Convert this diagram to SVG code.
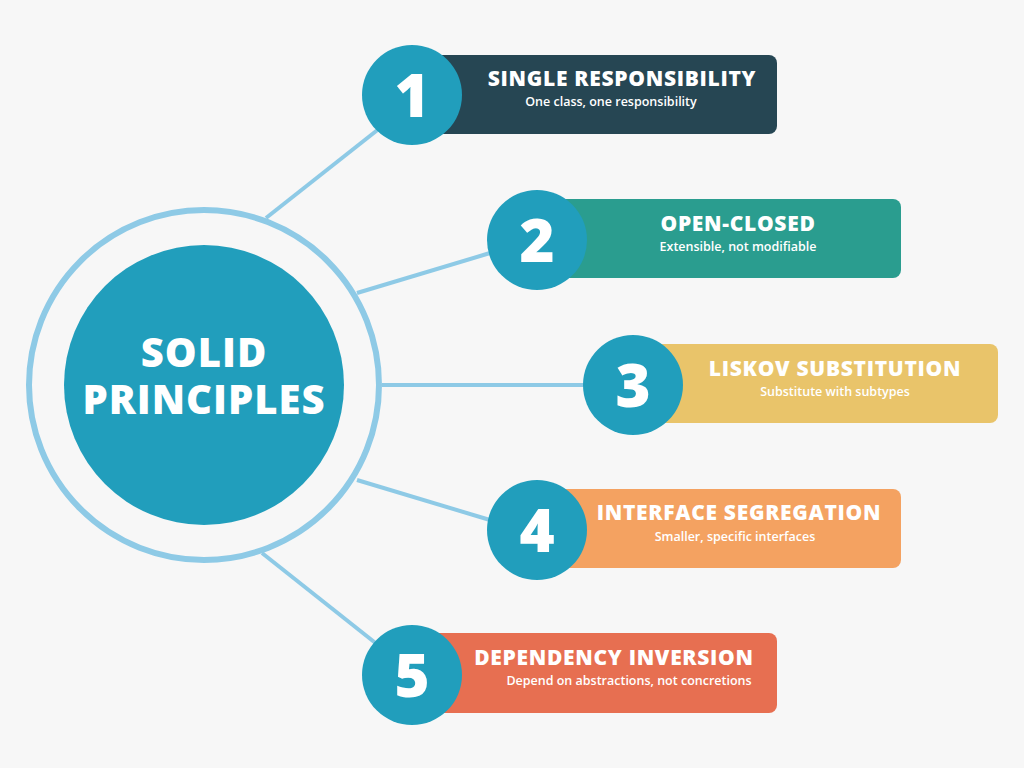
<svg xmlns="http://www.w3.org/2000/svg" width="1024" height="768" viewBox="0 0 1024 768">
<style>
.c{stroke:#8ecae6;stroke-width:4;fill:none}
.n{fill:#219ebc}
.num{font-family:"Open Sans",sans-serif;font-weight:800;font-size:60px;fill:#fff;text-anchor:middle}
.t{font-family:"Open Sans",sans-serif;font-weight:800;font-size:21px;letter-spacing:0.7px;fill:#fff;text-anchor:middle}
.s{font-family:"Open Sans",sans-serif;font-weight:600;font-size:12.5px;fill:#fff;text-anchor:middle}
.h{font-family:"Open Sans",sans-serif;font-weight:800;font-size:40px;letter-spacing:1px;fill:#fff;text-anchor:middle}
</style>
<rect width="1024" height="768" fill="#f7f7f7"/>
<g id="connectors">
<line class="c" x1="266" y1="218" x2="380" y2="128"/>
<line class="c" x1="357" y1="293" x2="490" y2="253"/>
<line class="c" x1="382" y1="385" x2="585" y2="385"/>
<line class="c" x1="357" y1="480" x2="490" y2="520"/>
<line class="c" x1="262" y1="553" x2="378" y2="645"/>
</g>
<g id="center">
<circle cx="204" cy="385" r="175" fill="none" stroke="#8ecae6" stroke-width="6"/>
<circle cx="204" cy="385" r="140" fill="#219ebc"/>
<text class="h" x="204" y="367">SOLID</text>
<text class="h" x="204" y="414">PRINCIPLES</text>
</g>
<g id="n1">
<rect x="430" y="55" width="347" height="79" rx="8" fill="#264653"/>
<circle class="n" cx="412" cy="95" r="50"/>
<text class="num" x="412" y="117">1</text>
<text class="t" x="622" y="86">SINGLE RESPONSIBILITY</text>
<text class="s" x="611" y="106">One class, one responsibility</text>
</g>
<g id="n2">
<rect x="555" y="199" width="346" height="79" rx="8" fill="#2a9d8f"/>
<circle class="n" cx="537" cy="240" r="50"/>
<text class="num" x="537" y="262">2</text>
<text class="t" x="738" y="231">OPEN-CLOSED</text>
<text class="s" x="738" y="251">Extensible, not modifiable</text>
</g>
<g id="n3">
<rect x="650" y="344" width="348" height="79" rx="8" fill="#e9c46a"/>
<circle class="n" cx="633" cy="385" r="50"/>
<text class="num" x="633" y="407">3</text>
<text class="t" x="835" y="376">LISKOV SUBSTITUTION</text>
<text class="s" x="835" y="396">Substitute with subtypes</text>
</g>
<g id="n4">
<rect x="555" y="489" width="346" height="79" rx="8" fill="#f4a261"/>
<circle class="n" cx="537" cy="530" r="50"/>
<text class="num" x="537" y="552">4</text>
<text class="t" x="739" y="520">INTERFACE SEGREGATION</text>
<text class="s" x="735" y="541">Smaller, specific interfaces</text>
</g>
<g id="n5">
<rect x="430" y="633" width="347" height="80" rx="8" fill="#e76f51"/>
<circle class="n" cx="412" cy="675" r="50"/>
<text class="num" x="412" y="697">5</text>
<text class="t" x="614" y="665">DEPENDENCY INVERSION</text>
<text class="s" x="629" y="685">Depend on abstractions, not concretions</text>
</g>
</svg>
